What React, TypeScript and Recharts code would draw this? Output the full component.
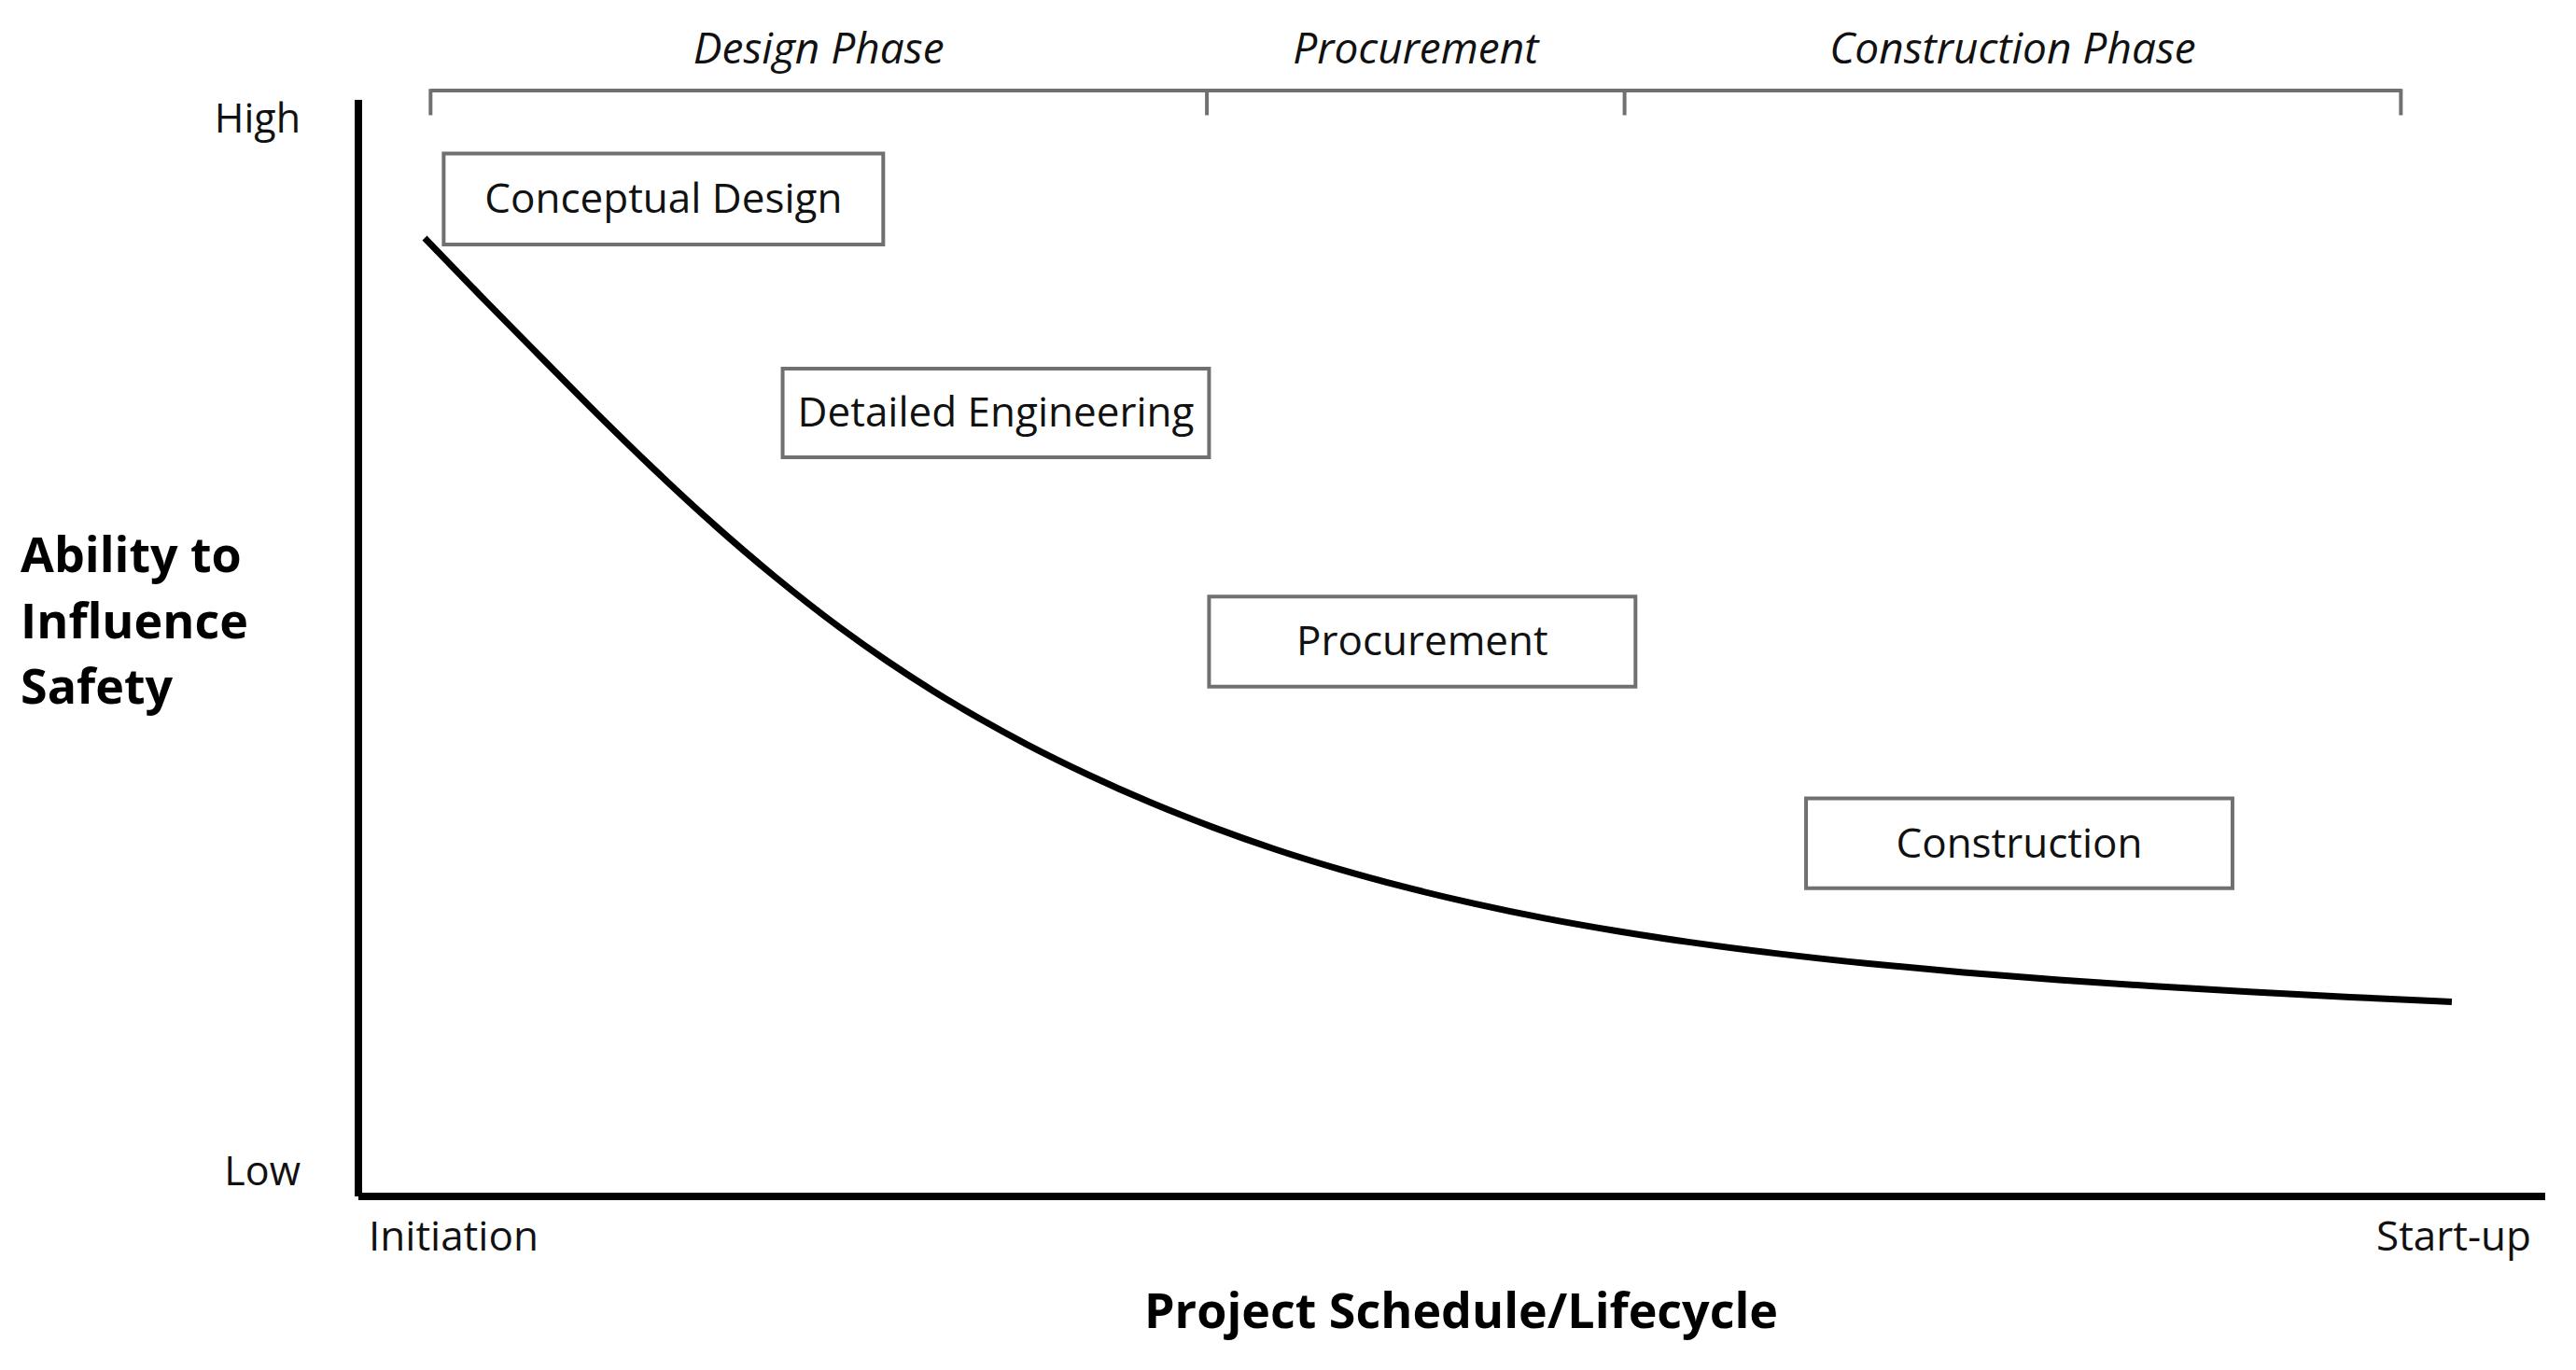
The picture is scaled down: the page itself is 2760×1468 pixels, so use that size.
import React from 'react';
import { LineChart, Line, XAxis, YAxis, ReferenceArea, ReferenceLine } from 'recharts';

// Curve (x: % of schedule, y: % ability to influence)
const scheduleX = [3.03, 5.8, 8.37, 10.93, 13.49, 16.05, 19.04, 22.02, 24.16, 26.29, 28.43, 30.56, 33.38, 36.24, 39.1, 41.95, 44.86, 47.76, 51.05, 54.29, 57.58, 60.82, 64.92, 69.06, 73.41, 77.76, 82.12, 86.47, 91.08, 95.73];
const influence = [87.4, 81.69, 76.49, 71.34, 66.37, 61.64, 56.52, 51.87, 48.85, 46.09, 43.55, 41.23, 38.45, 35.91, 33.65, 31.64, 29.84, 28.26, 26.69, 25.35, 24.19, 23.2, 22.14, 21.23, 20.43, 19.75, 19.17, 18.66, 18.18, 17.74];

// Axis ticks
const xTickValues = [0, 100];
const xTickLabels = ['Initiation', 'Start-up'];
const yTickValues = [0, 100];
const yTickLabels = ['Low', 'High'];

// Phase brackets
const phaseNames = ['Design Phase', 'Procurement', 'Construction Phase'];
const phaseStart = [3.3, 38.8, 57.9];
const phaseEnd = [38.8, 57.9, 93.4];
const bracketLevel = 100.85;
const bracketTickLevel = 98.6;

// Stage boxes
const stageNames = ['Conceptual Design', 'Detailed Engineering', 'Procurement', 'Construction'];
const stageX1 = [3.9, 19.4, 38.9, 66.2];
const stageX2 = [24.0, 38.9, 58.4, 85.7];
const stageYLow = [86.8, 67.4, 46.5, 28.1];
const stageYHigh = [95.1, 75.5, 54.7, 36.3];

const yTitleLines = ['Ability to', 'Influence', 'Safety'];
const xTitle = 'Project Schedule/Lifecycle';

const FONT = "'Open Sans', sans-serif";

const chartData = scheduleX.map((x, i) => ({ x, y: influence[i] }));

const XTick = (props: any) => {
  const { x, y, payload } = props;
  const idx = xTickValues.indexOf(payload.value);
  const isStart = idx === 0;
  return (
    <text x={isStart ? x + 11 : x - 15} y={y + 58} textAnchor={isStart ? 'start' : 'end'} fontFamily={FONT} fontSize={44} fill="#111">
      {xTickLabels[idx]}
    </text>
  );
};

const YTick = (props: any) => {
  const { x, y, payload } = props;
  const idx = yTickValues.indexOf(payload.value);
  const isHigh = idx === 1;
  return (
    <text x={x - 62} y={isHigh ? y + 35 : y - 12} textAnchor="end" fontFamily={FONT} fontSize={43} fill="#111">
      {yTickLabels[idx]}
    </text>
  );
};

const YTitle = (props: any) => {
  const vb = props.viewBox;
  const baselines = [506, 577, 647];
  return (
    <g>
      {yTitleLines.map((t, i) => (
        <text key={t} x={vb.x - 62} y={vb.y + baselines[i]} fontFamily={FONT} fontWeight={700} fontSize={52} fill="#000">
          {t}
        </text>
      ))}
    </g>
  );
};

const XTitle = (props: any) => {
  const vb = props.viewBox;
  return (
    <text x={vb.x + vb.width / 2 + 10} y={vb.y + 141} textAnchor="middle" fontFamily={FONT} fontWeight={700} fontSize={52} fill="#000">
      {xTitle}
    </text>
  );
};

const PhaseLabel = (props: any) => {
  const vb = props.viewBox;
  return (
    <text x={vb.x + vb.width / 2} y={vb.y - 29} textAnchor="middle" fontFamily={FONT} fontStyle="italic" fontSize={46} fill="#111">
      {props.text}
    </text>
  );
};

const BoxLabel = (props: any) => {
  const vb = props.viewBox;
  return (
    <text x={vb.x + vb.width / 2} y={vb.y + vb.height / 2 + 15} textAnchor="middle" fontFamily={FONT} fontSize={44} fill="#111">
      {props.text}
    </text>
  );
};

const boundaries = Array.from(new Set([...phaseStart, ...phaseEnd]));

export default function App() {
  return (
    <div style={{ position: 'absolute', left: 0, top: 0, width: 2760, height: 1468, background: '#fff' }}>
      <LineChart width={2760} height={1468} data={chartData} margin={{ top: 107, right: 33, bottom: 86, left: 84 }}>
        <XAxis
          dataKey="x"
          type="number"
          domain={[0, 100]}
          allowDataOverflow
          ticks={xTickValues}
          interval={0}
          tickLine={false}
          tickSize={0}
          tickMargin={0}
          height={100}
          axisLine={{ stroke: '#000', strokeWidth: 8 }}
          tick={<XTick />}
          label={<XTitle />}
        />
        <YAxis
          type="number"
          domain={[0, 100]}
          allowDataOverflow
          ticks={yTickValues}
          interval={0}
          tickLine={false}
          tickSize={0}
          tickMargin={0}
          width={300}
          axisLine={{ stroke: '#000', strokeWidth: 8 }}
          tick={<YTick />}
          label={<YTitle />}
        />
        {phaseNames.map((name, i) => (
          <ReferenceLine
            key={'ph' + i}
            segment={[{ x: phaseStart[i], y: bracketLevel }, { x: phaseEnd[i], y: bracketLevel }]}
            stroke="#707070"
            strokeWidth={4}
            ifOverflow="visible"
            label={<PhaseLabel text={name} />}
          />
        ))}
        {boundaries.map((b, i) => (
          <ReferenceLine
            key={'bt' + i}
            segment={[{ x: b, y: bracketLevel + 0.15 }, { x: b, y: bracketTickLevel }]}
            stroke="#707070"
            strokeWidth={4}
            ifOverflow="visible"
          />
        ))}
        {stageNames.map((name, i) => (
          <ReferenceArea
            key={'st' + i}
            x1={stageX1[i]}
            x2={stageX2[i]}
            y1={stageYLow[i]}
            y2={stageYHigh[i]}
            stroke="#707070"
            strokeWidth={4}
            fill="#ffffff"
            fillOpacity={1}
            ifOverflow="visible"
            label={<BoxLabel text={name} />}
          />
        ))}
        <Line
          dataKey="y"
          type="monotone"
          stroke="#000"
          strokeWidth={7}
          dot={false}
          activeDot={false}
          isAnimationActive={false}
        />
      </LineChart>
    </div>
  );
}
